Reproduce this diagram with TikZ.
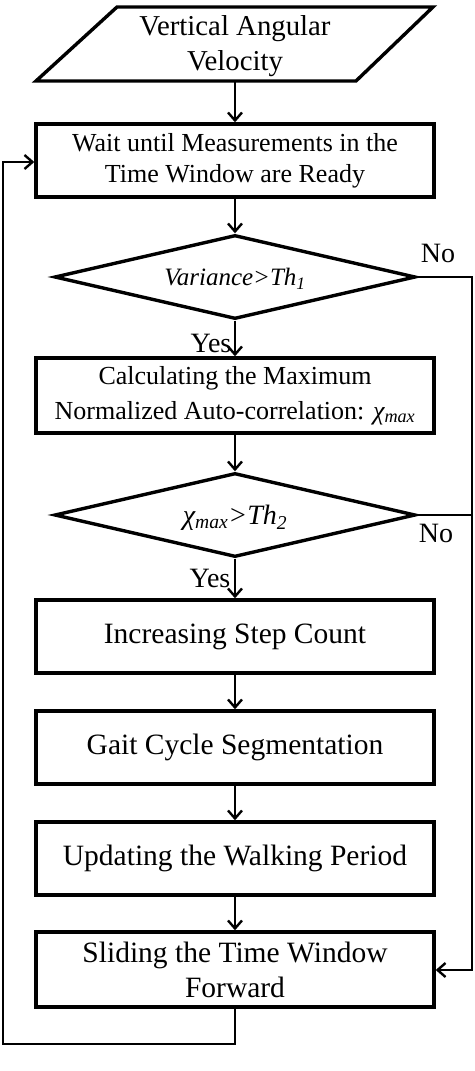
\documentclass[tikz,border=0pt]{standalone}
\usepackage{fontspec}
\setmainfont{Liberation Serif}
\usetikzlibrary{shapes.geometric,arrows.meta}
\begin{document}
\begin{tikzpicture}[x=1pt,y=-1pt,
  box/.style={draw,line width=3.4pt,minimum width=398pt,inner sep=0pt,align=center},
  dec/.style={draw,diamond,line width=3.4pt,minimum width=361pt,minimum height=84pt,inner sep=0pt},
  conn/.style={line width=2.6pt},
  arr/.style={conn,-{Straight Barb[length=8pt,width=14pt,line width=2.4pt]}},
  lbl/.style={inner sep=0pt,font=\fontsize{28}{30}\selectfont}]
\useasboundingbox (0,0) rectangle (474,1071);
% input parallelogram
\draw[line width=3.4pt,line join=miter] (117,7) -- (433,7) -- (356,81) -- (36,81) -- cycle;
\node[inner sep=0pt,align=center,font=\fontsize{28.8}{35}\selectfont] (in) at (235,46) {Vertical Angular\\Velocity};
\coordinate (inb) at (235,81);
\node[box,minimum height=73pt,font=\fontsize{26}{31}\selectfont] (wait) at (235,160.5) {Wait until Measurements in the\\Time Window are Ready};
\node[dec] (d1) at (235,277) {};
\node[inner sep=0pt,font=\fontsize{25}{28}\selectfont\itshape] at (235,279) {Variance>Th\textsubscript{1}};
\node[box,minimum height=75pt,font=\fontsize{26}{35}\selectfont] (calc) at (235,395.5) {Calculating the Maximum\\Normalized Auto-correlation: \textit{χ\textsubscript{max}}};
\node[dec] (d2) at (235,515) {};
\node[inner sep=0pt,font=\fontsize{28}{30}\selectfont\itshape] at (235,518) {χ\textsubscript{max}>Th\textsubscript{2}};
\node[box,minimum height=73pt,font=\fontsize{29.5}{35}\selectfont] (inc) at (235,636.5) {Increasing Step Count};
\node[box,minimum height=73pt,font=\fontsize{29.5}{35}\selectfont] (gait) at (235,747.5) {Gait Cycle Segmentation};
\node[box,minimum height=73pt,font=\fontsize{29.5}{35}\selectfont] (upd) at (235,858.5) {Updating the Walking Period};
\node[box,minimum height=75pt,font=\fontsize{29.5}{35}\selectfont] (slide) at (235,969.5) {Sliding the Time Window\\Forward};
% labels
\node[lbl] (no1) at (438,253) {No};
\node[lbl] (no2) at (436,533) {No};
\node[lbl] (yes1) at (211,343) {Yes};
\node[lbl] (yes2) at (210,578) {Yes};
% connectors
\draw[arr] (inb) -- (wait.north);
\draw[arr] (wait.south) -- (d1.north);
\draw[arr] (d1.south) -- (calc.north);
\draw[arr] (calc.south) -- (d2.north);
\draw[arr] (d2.south) -- (inc.north);
\draw[arr] (inc.south) -- (gait.north);
\draw[arr] (gait.south) -- (upd.north);
\draw[arr] (upd.south) -- (slide.north);
\coordinate (r1) at (472,277);
\coordinate (r2) at (472,970);
\draw[arr] (d1.east) -- (r1) -- (r2) -- (slide.east |- r2);
\draw[conn] (d2.east) -- (d2.east -| r1);
\coordinate (b1) at (235,1044);
\coordinate (b2) at (3,1044);
\coordinate (b3) at (3,162);
\draw[arr] (slide.south) -- (b1) -- (b2) -- (b3) -- (wait.west |- b3);
\end{tikzpicture}
\end{document}
